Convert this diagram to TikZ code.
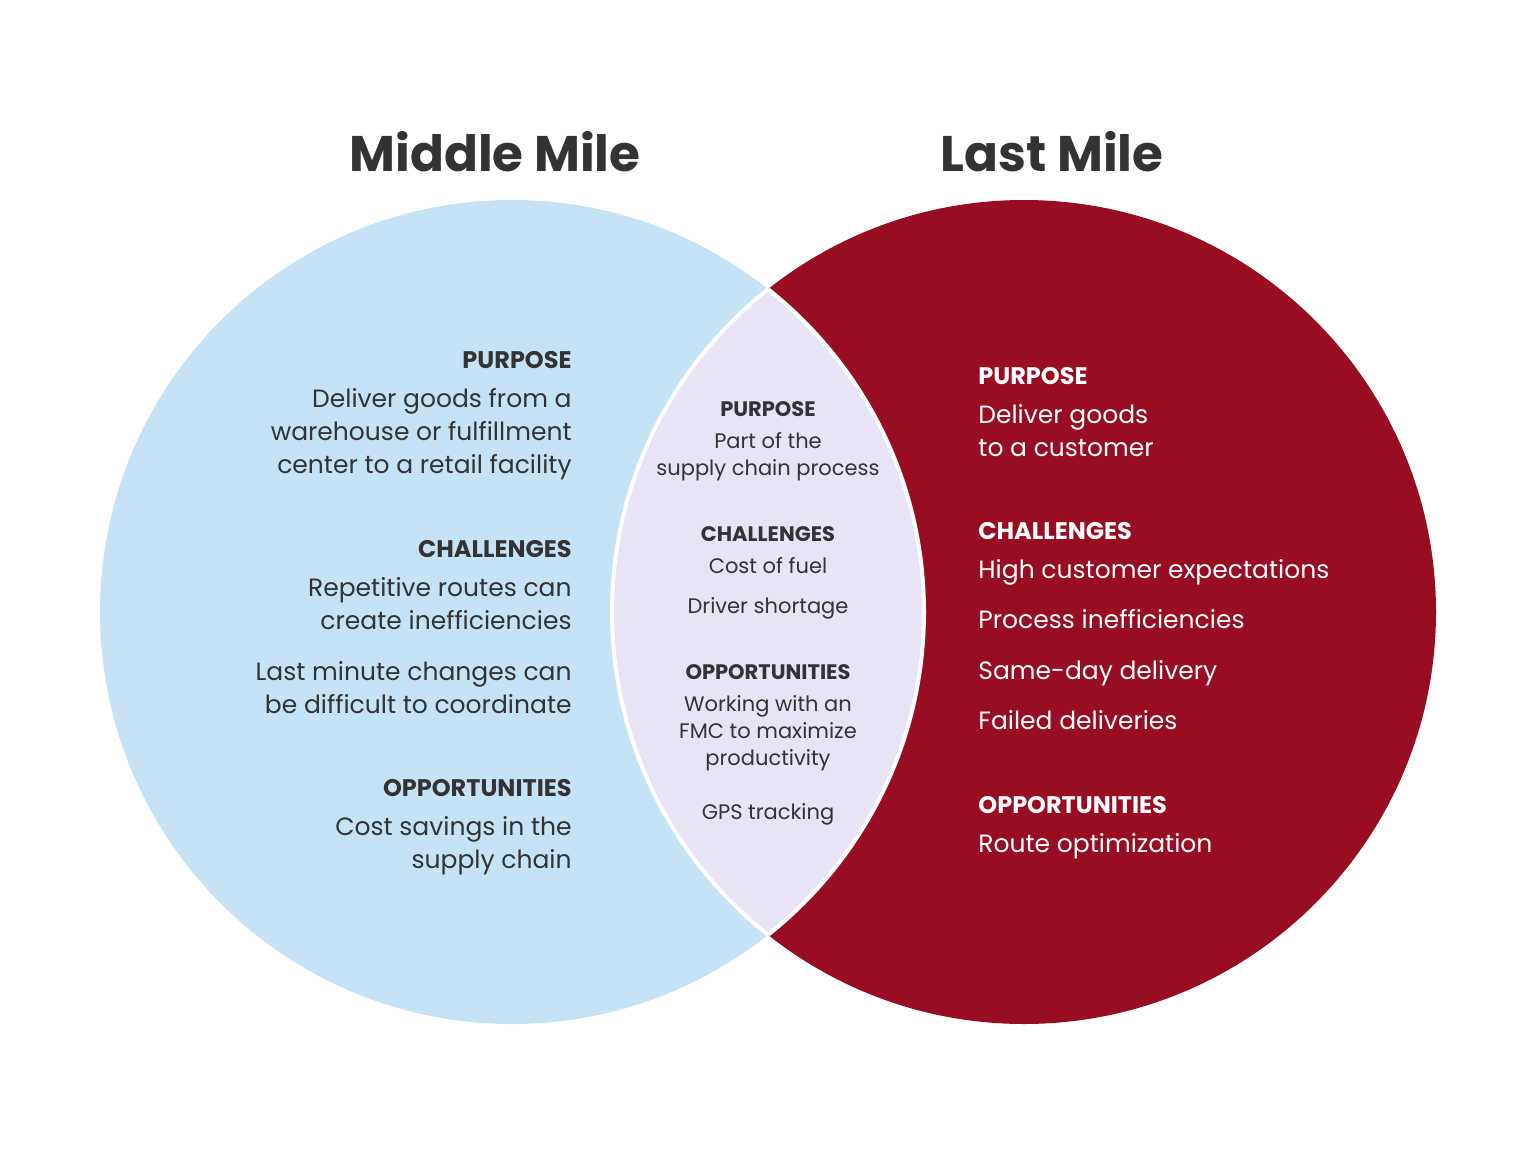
\documentclass[tikz,border=0pt]{standalone}
\usepackage{fontspec}
\setmainfont{Poppins}
\begin{document}
\begin{tikzpicture}[x=0.5pt,y=-0.5pt,
  title/.style={font=\fontsize{25}{30}\selectfont\bfseries,text=black!80},
  lh/.style={font=\fontsize{12}{15}\selectfont\bfseries,text=black!80,anchor=east,inner sep=0},
  lt/.style={font=\fontsize{12.5}{16.5}\selectfont,text=black!80,anchor=north east,align=right,inner sep=0},
  rh/.style={font=\fontsize{12}{15}\selectfont\bfseries,text=white,anchor=west,inner sep=0},
  rt/.style={font=\fontsize{12.5}{16.5}\selectfont,text=white,anchor=north west,align=left,inner sep=0},
  ch/.style={font=\fontsize{10.5}{13}\selectfont\bfseries,text=black!80,inner sep=0},
  ct/.style={font=\fontsize{10.5}{13.5}\selectfont,text=black!80,align=center,inner sep=0,anchor=north}]
\definecolor{lblue}{HTML}{C6E3F6}
\definecolor{dred}{HTML}{990D23}
\definecolor{lens}{HTML}{E8E3F5}
\useasboundingbox (0,0) rectangle (1536,1151);
\fill[white] (0,0) rectangle (1536,1151);
\fill[lblue] (512,612) circle (412);
\fill[dred] (1024,612) circle (412);
\begin{scope}
 \clip (512,612) circle (412);
 \fill[lens,draw=white,line width=2pt] (1024,612) circle (412);
\end{scope}
\begin{scope}
 \clip (1024,612) circle (412);
 \draw[white,line width=2pt] (512,612) circle (412);
\end{scope}
\node[title] (t1) at (495,152) {Middle Mile};
\node[title] (t2) at (1052,152) {Last Mile};
% left
\node[lh] (l1) at (572,360) {PURPOSE};
\node[lt] (l2) at (572,388) {Deliver goods from a\\warehouse or fulfillment\\center to a retail facility};
\node[lh] (l3) at (572,549) {CHALLENGES};
\node[lt] (l4) at (572,577) {Repetitive routes can\\create inefficiencies};
\node[lt] (l5) at (572,661) {Last minute changes can\\be difficult to coordinate};
\node[lh] (l6) at (572,788) {OPPORTUNITIES};
\node[lt] (l7) at (572,816) {Cost savings in the\\supply chain};
% center
\node[ch] (c1) at (768,409) {PURPOSE};
\node[ct] (c2) at (768,432) {Part of the\\supply chain process};
\node[ch] (c3) at (768,534) {CHALLENGES};
\node[ct] (c4) at (768,557) {Cost of fuel};
\node[ct] (c5) at (768,597) {Driver shortage};
\node[ch] (c6) at (768,672) {OPPORTUNITIES};
\node[ct] (c7) at (768,695) {Working with an\\FMC to maximize\\productivity};
\node[ct] (c8) at (768,803) {GPS tracking};
% right
\node[rh] (r1) at (978,376) {PURPOSE};
\node[rt] (r2) at (978,404) {Deliver goods\\to a customer};
\node[rh] (r3) at (978,531) {CHALLENGES};
\node[rt] (r4) at (978,559) {High customer expectations};
\node[rt] (r5) at (978,609) {Process inefficiencies};
\node[rt] (r6) at (978,660) {Same-day delivery};
\node[rt] (r7) at (978,710) {Failed deliveries};
\node[rh] (r8) at (978,805) {OPPORTUNITIES};
\node[rt] (r9) at (978,833) {Route optimization};
\end{tikzpicture}
\end{document}
